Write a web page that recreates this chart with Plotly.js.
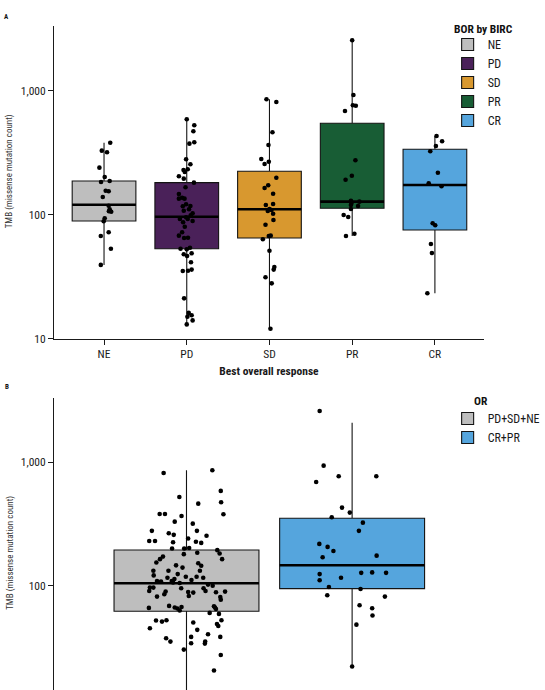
<!DOCTYPE html>
<html>
<head>
<meta charset="utf-8">
<script src="https://cdn.plot.ly/plotly-3.0.1.min.js"></script>
<style>
html,body{margin:0;padding:0;background:#fff;overflow:hidden;}
#chart{width:545px;height:760px;}
</style>
</head>
<body>
<div id="chart"></div>
<script>
// ---------- data ----------
var categories = ['NE', 'PD', 'SD', 'PR', 'CR'];
var groups = ['PD+SD+NE', 'CR+PR'];

// box statistics, panel A (per BOR category)
var q1Top  = [89.0, 53.1, 64.8, 112.6, 75.2];
var medTop = [120.4, 96.3, 110.6, 127.4, 173.8];
var q3Top  = [187.2, 181.4, 224.2, 547.4, 337.6];
var loTop  = [39.3, 13.0, 12.0, 67.3, 23.2];
var hiTop  = [381.6, 589.5, 855.3, 2562, 432.2];

// box statistics, panel B (per OR group)
var q1Bot  = [62.0, 94.6];
var medBot = [104.6, 146.3];
var q3Bot  = [194.7, 351.8];
var loBot  = [12.0, 22.1];
var hiBot  = [860, 2094];

// individual patients, panel A
var neVals = [381.6, 328.9, 319.2, 239.8, 201.6, 183.7, 187.2, 156.2, 154.5, 139.0, 118.2, 110.6, 105.7, 106.5, 93.5, 88.5, 67.3, 72.1, 53.1, 39.3];
var neJitter = [0.075, -0.027, 0.036, -0.056, 0.008, -0.036, 0.068, 0.020, 0.056, -0.015, 0.056, 0.068, 0.087, 0.059, 0.008, -0.004, -0.039, 0.056, 0.083, -0.039];

var pdVals = [589.5, 527.4, 471.8, 384.5, 374.6, 280.3, 255.4, 229.6, 232.6, 221.3, 204.3, 195.4, 181.4, 166.4, 146.9, 137.2, 134.7, 134.7, 121.3, 116.9, 117.6, 110.6, 107.7, 102.6, 98.9, 95.3, 92.3, 92.3, 86.8, 88.9, 80.0, 72.1, 67.7, 64.8, 65.2, 53.1, 52.5, 54.1, 47.9, 48.8, 46.4, 41.3, 35.1, 35.3, 36.0, 21.1, 16.1, 15.4, 15.0, 14.0, 13.0];
var pdJitter = [0, 0.091, 0.080, 0.091, 0.032, -0.008, 0.044, -0.039, 0.012, -0.024, -0.095, -0.036, 0.087, -0.015, -0.095, -0.056, -0.095, -0.027, -0.008, -0.048, 0.044, 0.027, -0.036, 0.071, 0.048, -0.008, -0.083, 0.012, -0.044, 0.071, -0.024, -0.056, -0.095, -0.032, 0.015, -0.075, 0, 0.039, -0.036, 0.059, 0.004, 0.051, -0.048, 0.015, 0.059, -0.032, 0.024, 0.059, 0.008, 0.071, 0];

var sdVals = [855.3, 813.5, 463.1, 365.6, 281.8, 256.8, 268.0, 199.0, 164.3, 172.8, 147.8, 119.8, 122.0, 111.2, 107.1, 109.1, 101.9, 90.6, 83.0, 67.3, 67.7, 63.3, 51.2, 37.8, 36.0, 31.2, 27.9, 12.0];
var sdJitter = [-0.036, 0.083, 0.036, -0.012, -0.099, -0.059, -0.008, 0.083, -0.059, -0.015, 0.044, -0.044, 0.044, 0, -0.020, 0.024, 0.044, 0.048, -0.048, -0.008, 0.015, -0.080, 0, 0.059, 0.051, -0.048, 0.027, 0.012];

var prVals = [2562, 926.6, 765.0, 759.4, 688.0, 275.1, 206.5, 191.7, 129.7, 124.3, 127.4, 119.8, 117.6, 111.2, 99.4, 95.8, 67.3, 70.2];
var prJitter = [0, 0.015, 0.008, 0.044, -0.087, 0.039, -0.004, -0.080, -0.015, -0.008, 0.087, -0.015, 0.071, -0.015, -0.103, -0.048, -0.075, 0.027];

var crVals = [432.2, 391.6, 358.8, 325.2, 218.4, 179.3, 169.6, 85.2, 82.1, 58.0, 49.0, 23.2];
var crJitter = [0.020, 0.087, 0.012, -0.056, 0.036, -0.075, 0.080, -0.027, 0.004, -0.048, -0.036, -0.091];

// individual patients, panel B
var nonRespVals = [819, 861, 586, 523, 474, 462, 381, 381, 379, 367,
  330, 318, 278, 278, 266, 254, 258, 241, 230, 230,
  225, 227, 222, 200, 200, 202, 185, 194, 182, 180,
  172, 164, 164, 154, 152, 145, 146, 140, 132, 132,
  132, 121, 118, 124, 118, 116, 116, 109, 108, 109,
  113, 111, 106, 105, 102, 100, 96.4, 90.6, 96.4, 95.2,
  95.2, 90.6, 89.5, 89.5, 85.1, 88.9, 87.8, 88.4, 81.5, 82.5,
  81.0, 77.0, 68.5, 66.0, 66.4, 65.2, 67.2, 62.8, 68.1, 66.4,
  64.7, 60.1, 59.0, 52.1, 51.1, 52.4, 45.1, 50.2, 48.9, 52.4,
  47.1, 43.8, 40.4, 37.5, 35.2, 38.4, 34.1, 35.2, 33.9, 38.4,
  30.3, 27.4, 20.5];
var nonRespJitter = [-0.138, 0.156, 0.207, -0.043, 0.209, 0.071, -0.162, -0.130, 0.223, -0.030,
  -0.071, 0.038, -0.209, 0.063, -0.107, 0.121, -0.077, 0.010, -0.225, -0.190,
  -0.081, 0.057, 0.089, -0.087, -0.014, 0.016, 0.065, 0.186, 0.200, -0.016,
  -0.142, -0.160, 0.215, -0.182, 0.071, 0.089, -0.063, -0.024, -0.200, -0.109,
  0.081, -0.198, -0.004, -0.053, 0.061, -0.115, 0.101, -0.178, -0.154, -0.089,
  -0.073, 0.030, -0.081, -0.041, 0.130, 0.158, -0.221, -0.225, -0.200, -0.032,
  0.103, 0.115, 0.233, -0.126, -0.134, 0.010, 0.041, 0.178, -0.178, 0.014,
  0.204, 0.207, -0.105, -0.227, -0.071, -0.055, -0.030, -0.041, 0.166, 0.172,
  0.178, 0.140, 0.196, -0.184, -0.148, -0.121, -0.221, 0.041, 0.184, 0.211,
  0.192, 0.065, 0.130, -0.123, -0.097, 0.028, 0.028, 0.113, 0.111, 0.204,
  -0.016, 0.207, 0.166];

var respVals = [2604, 939, 692, 770, 770, 429, 391, 358, 324, 278, 218, 206, 191, 170, 175, 124, 127, 128, 127, 110.5, 116, 97.6, 94.0, 83.5, 81.5, 69.3, 65.6, 57.2, 48.3, 22.1];
var respJitter = [-0.196, -0.172, -0.217, -0.081, 0.146, -0.061, -0.014, -0.123, 0.065, 0.041, -0.198, -0.148, -0.113, -0.178, 0.148, -0.196, 0.055, 0.121, 0.205, -0.196, -0.067, -0.140, 0.051, -0.150, 0.198, 0.045, 0.121, 0.123, 0.026, 0.000];

var yTickVals = [10, 100, 1000];
var yTickText = ['10', '100', '1,000'];
// panel B is cropped just above its 10 line, so only the visible ticks are labelled
var yTickValsB = [100, 1000];
var yTickTextB = ['100', '1,000'];

// ---------- styles ----------
var topColors = ['#BEBEBE', '#4A2159', '#D8982F', '#185D35', '#55A5DD'];
var botColors = ['#BEBEBE', '#55A5DD'];
var FONT = 'Liberation Sans Narrow, Arial Narrow, Roboto Condensed, DejaVu Sans Condensed, sans-serif';
var H = 760, W = 545;
function px(x) { return x / W; }
function py(y) { return 1 - y / H; }

var traces = [];
function addBoxes(pos, q1, med, q3, lo, hi, names, colors, width, xa, ya, leg) {
  for (var i = 0; i < pos.length; i++) {
    traces.push({
      type: 'box', x: [pos[i]], q1: [q1[i]], median: [med[i]], q3: [q3[i]],
      lowerfence: [lo[i]], upperfence: [hi[i]], width: width,
      name: names[i], fillcolor: colors[i], line: {color: '#141414', width: 1.1},
      whiskerwidth: 0, boxpoints: false, hoverinfo: 'skip',
      xaxis: xa, yaxis: ya, legend: leg, showlegend: true
    });
    // thick median bar
    traces.push({
      type: 'box', x: [pos[i]], q1: [med[i]], median: [med[i]], q3: [med[i]],
      lowerfence: [med[i]], upperfence: [med[i]], width: width,
      fillcolor: 'rgba(0,0,0,0)', line: {color: '#000', width: 2.6},
      whiskerwidth: 0, boxpoints: false, hoverinfo: 'skip',
      xaxis: xa, yaxis: ya, showlegend: false
    });
  }
}
function addPoints(pos, vals, jit, xa, ya) {
  traces.push({
    type: 'scatter', mode: 'markers',
    x: jit.map(function (j) { return pos + j; }), y: vals,
    marker: {size: 4.6, color: '#000'}, hoverinfo: 'skip',
    xaxis: xa, yaxis: ya, showlegend: false
  });
}

addBoxes([0, 1, 2, 3, 4], q1Top, medTop, q3Top, loTop, hiTop, categories, topColors, 0.77, 'x', 'y', 'legend');
addBoxes([0, 1], q1Bot, medBot, q3Bot, loBot, hiBot, groups, botColors, 0.875, 'x2', 'y2', 'legend2');

addPoints(0, neVals, neJitter, 'x', 'y');
addPoints(1, pdVals, pdJitter, 'x', 'y');
addPoints(2, sdVals, sdJitter, 'x', 'y');
addPoints(3, prVals, prJitter, 'x', 'y');
addPoints(4, crVals, crJitter, 'x', 'y');
addPoints(0, nonRespVals, nonRespJitter, 'x2', 'y2');
addPoints(1, respVals, respJitter, 'x2', 'y2');

var axCommon = {
  showgrid: false, zeroline: false, showline: true, linecolor: '#1a1a1a', linewidth: 1,
  ticks: 'outside', ticklen: 5, tickcolor: '#1a1a1a', tickwidth: 1,
  tickfont: {family: FONT, size: 11.5, color: '#1a1a1a'}, fixedrange: true
};
function ax(extra) { return Object.assign({}, axCommon, extra); }

var layout = {
  width: W, height: H,
  margin: {l: 0, r: 0, t: 0, b: 0},
  paper_bgcolor: '#fff', plot_bgcolor: '#fff',
  font: {family: FONT, color: '#1a1a1a'},
  boxmode: 'overlay',
  xaxis: ax({domain: [px(55), px(493)], range: [-0.605, 4.593], anchor: 'y',
    tickvals: [0, 1, 2, 3, 4], ticktext: categories,
    title: {text: '<b>Best overall response</b>', font: {family: FONT, size: 11.5, color: '#1a1a1a'}, standoff: 6}}),
  yaxis: ax({domain: [py(338.5), py(26)], type: 'log', range: [1, 3.524], anchor: 'x',
    tickvals: yTickVals, ticktext: yTickText}),
  xaxis2: ax({domain: [px(55), px(493)], range: [-0.800, 1.796], anchor: 'y2',
    tickvals: [0, 1], ticktext: groups, showticklabels: false}),
  yaxis2: ax({domain: [py(709), py(398)], type: 'log', range: [1, 3.521], anchor: 'x2',
    tickvals: yTickValsB, ticktext: yTickTextB}),
  legend: {x: px(456), y: py(30), xanchor: 'left', yanchor: 'top',
    font: {family: FONT, size: 12, color: '#1a1a1a'}, bgcolor: 'rgba(0,0,0,0)',
    traceorder: 'normal', itemclick: false, itemdoubleclick: false},
  legend2: {x: px(456), y: py(404), xanchor: 'left', yanchor: 'top',
    font: {family: FONT, size: 12, color: '#1a1a1a'}, bgcolor: 'rgba(0,0,0,0)',
    traceorder: 'normal', itemclick: false, itemdoubleclick: false},
  annotations: [
    {text: '<b>BOR by BIRC</b>', xref: 'paper', yref: 'paper', x: px(460), y: py(29),
     xanchor: 'left', yanchor: 'middle', showarrow: false, font: {family: FONT, size: 11.5, color: '#111'}},
    {text: '<b>OR</b>', xref: 'paper', yref: 'paper', x: px(481), y: py(401),
     xanchor: 'left', yanchor: 'middle', showarrow: false, font: {family: FONT, size: 11.5, color: '#111'}},
    {text: 'TMB (missense mutation count)', xref: 'paper', yref: 'paper', x: px(10), y: py(171.5),
     textangle: -90, xanchor: 'center', yanchor: 'middle', showarrow: false, font: {family: FONT, size: 9, color: '#333'}},
    {text: 'TMB (missense mutation count)', xref: 'paper', yref: 'paper', x: px(10), y: py(553),
     textangle: -90, xanchor: 'center', yanchor: 'middle', showarrow: false, font: {family: FONT, size: 9, color: '#333'}},
    {text: '<b>A</b>', xref: 'paper', yref: 'paper', x: px(11), y: py(17),
     xanchor: 'right', yanchor: 'middle', showarrow: false, font: {family: FONT, size: 7, color: '#111'}},
    {text: '<b>B</b>', xref: 'paper', yref: 'paper', x: px(11), y: py(387),
     xanchor: 'right', yanchor: 'middle', showarrow: false, font: {family: FONT, size: 7, color: '#111'}}
  ]
};

Plotly.newPlot('chart', traces, layout, {displayModeBar: false, staticPlot: true});
</script>
</body>
</html>
